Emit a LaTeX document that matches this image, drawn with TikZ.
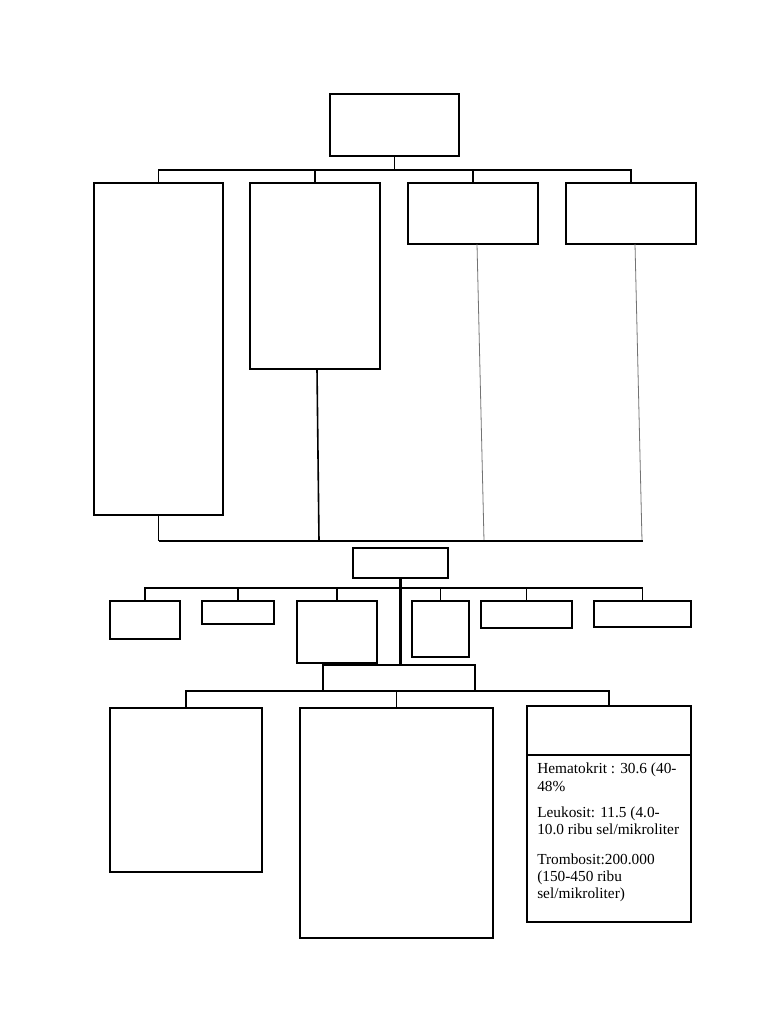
\documentclass[tikz,border=0pt]{standalone}
\usepackage{fontspec}
\setmainfont{Liberation Serif}
\newcommand\bnode[6][]{\node[box,#1,minimum width={(#5-#3)*0.75pt},minimum height={(#6-#4)*0.75pt}] (#2) at ({(#3+#5)/2},{(#4+#6)/2}) {};}
\begin{document}
\begin{tikzpicture}[x=0.75pt,y=-0.75pt,
  box/.style={draw=black, line width=0.9pt, inner sep=0pt, outer sep=0pt, fill=white},
  conn/.style={draw=black, line width=1.2pt},
  thickconn/.style={draw=black, line width=1.8pt},
  faint/.style={draw=black!55, line width=0.6pt},
  txt/.style={font=\fontsize{11.5}{12.75}\selectfont, anchor=base west, inner sep=0pt}]
\useasboundingbox[fill=white] (0,0) rectangle (768,1024);
% top level
\bnode{T}{330}{94}{459}{156}
\bnode{A}{94}{183}{223}{515}
\bnode{B}{250}{183}{380}{369}
\bnode{C}{408}{183}{538}{244}
\bnode{D}{566}{183}{696}{244}
% middle
\bnode{E}{353}{548}{448}{578}
\bnode{s1}{110}{601}{180}{639}
\bnode{s2}{202}{601}{274}{624}
\bnode{s3}{297}{601}{377}{663}
\bnode{s4}{412}{601}{469}{657}
\bnode{s5}{481}{601}{572}{628}
\bnode[line width=1.5pt]{s6}{594}{601}{691}{627}
% bottom
\bnode{F}{323}{665}{475}{691}
\bnode{G}{110}{708}{262}{872}
\bnode{H}{300}{708}{493}{938}
\bnode{I1}{527}{706}{691}{755}
\bnode{I2}{527}{755}{691}{922}
% bar coordinates
\coordinate (barT) at (0,170);
\coordinate (barB) at (0,541);
\coordinate (barE) at (0,588);
\coordinate (bB) at (319,541);
\coordinate (bC) at (484,541);
\coordinate (bD) at (642,541);
\coordinate (bEnd) at (643,541);
% top connectors
\draw[conn] (T.south) -- (T.south |- barT);
\draw[conn] (A.north) |- (D.north |- barT) -- (D.north);
\draw[conn] (B.north) -- (B.north |- barT);
\draw[conn] (C.north) -- (C.north |- barT);
% lower connectors to bottom bar
\draw[conn] (A.south) -- (A.south |- barB);
\draw[conn] ([xshift=1.5pt]B.south) -- (bB);
\draw[faint] ([xshift=3pt]C.south) -- (bC);
\draw[faint] ([xshift=3pt]D.south) -- (bD);
\draw[thickconn] (A.south |- barB) -- (bEnd);
% middle connectors
\draw[thickconn] (E.south) -- (E.south |- F.north);
\draw[conn] (s1.north) |- (s6.north |- barE) -- (s6.north);
\draw[conn] (s2.north) -- (s2.north |- barE);
\draw[conn] (s3.north) -- (s3.north |- barE);
\draw[conn] (s4.north) -- (s4.north |- barE);
\draw[conn] (s5.north) -- (s5.north |- barE);
% bottom connectors
\draw[conn] (G.north) |- (I1.north |- F.south) -- (I1.north);
\draw[conn] (H.north) -- (H.north |- F.south);
% text
\node[txt] (t1) at (537,773) {Hematokrit : 30.6 (40-};
\node[txt] (t2) at (537,791) {48\%};
\node[txt] (t3) at (537,817) {Leukosit: 11.5 (4.0-};
\node[txt] (t4) at (537,834) {10.0 ribu sel/mikroliter};
\node[txt] (t5) at (537,864) {Trombosit:200.000};
\node[txt] (t6) at (537,881) {(150-450 ribu};
\node[txt] (t7) at (537,898) {sel/mikroliter)};
\end{tikzpicture}
\end{document}
